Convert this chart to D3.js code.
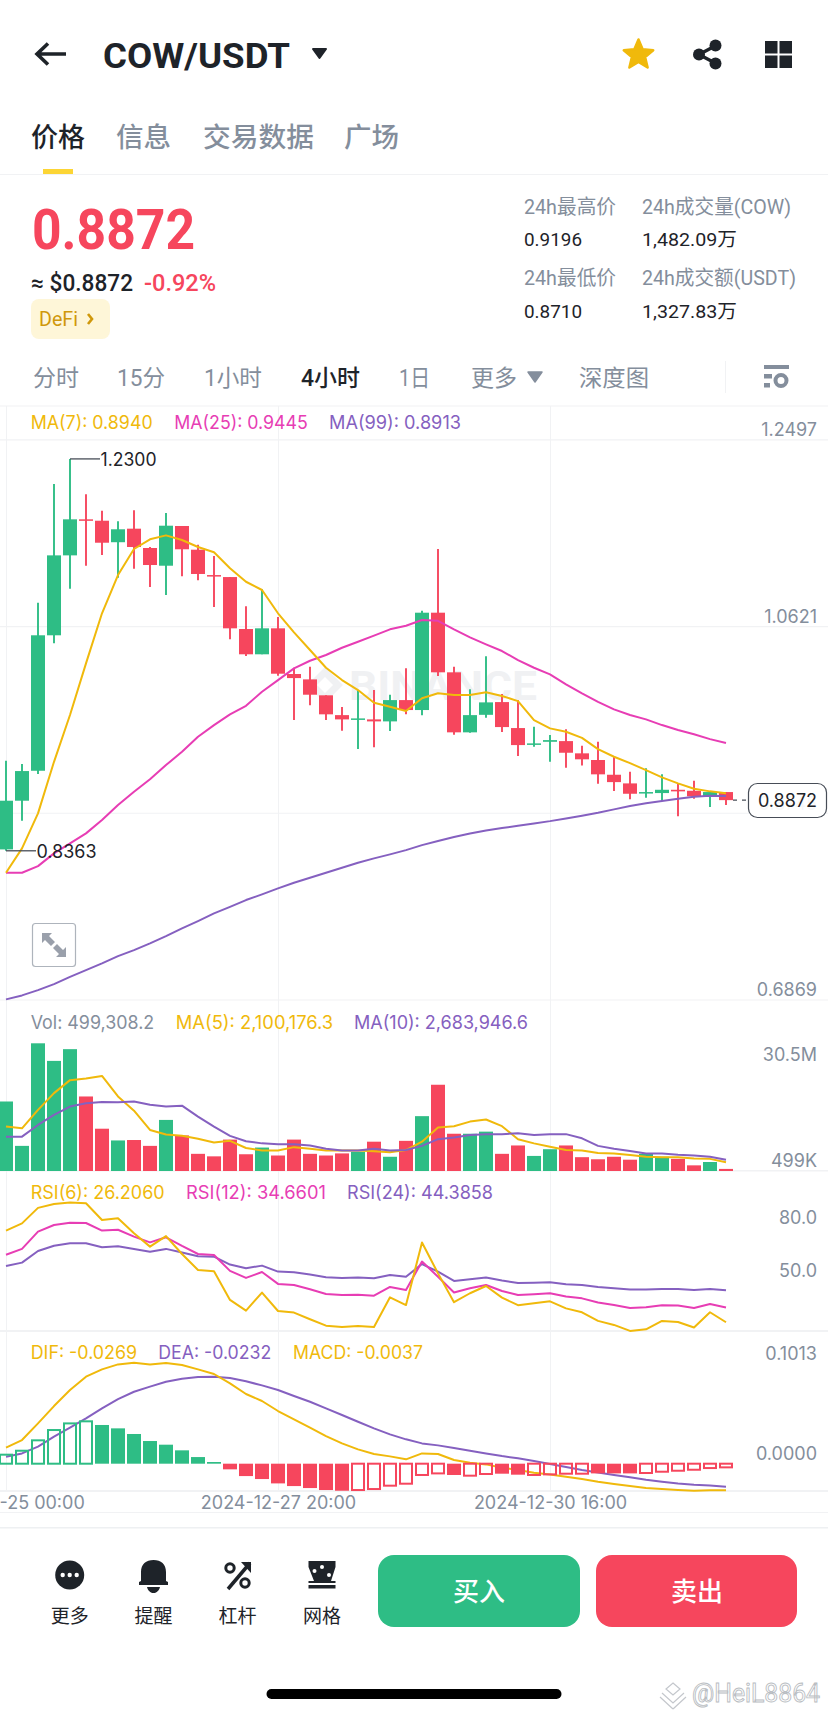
<!DOCTYPE html>
<html><head><meta charset="utf-8">
<script src="https://cdn.jsdelivr.net/npm/d3@7/dist/d3.min.js"></script>
<style>html,body{margin:0;padding:0;background:#fff}svg{display:block}</style>
</head><body><div id="c"></div>
<script>
// ---------- data ----------
const open  = [.8377,.8866,.9167,1.0528,1.1331,1.1693,1.1679,1.1463,1.1599,1.1405,1.1227,1.1626,1.1388,1.1133,1.1113,1.0591,1.0337,1.0598,1.0139,1.0085,.9925,.9726,.9679,.9683,.9663,.9877,.9777,1.0755,1.0156,.9553,.9729,.9857,.9596,.9428,.9458,.9465,.9342,.9275,.9127,.9040,.8940,.8943,.8976,.8966,.8914,.8953];
const close = [.8866,.9164,1.0528,1.1331,1.1693,1.1679,1.1458,1.1593,1.1415,1.1234,1.1629,1.1392,1.1144,1.1120,1.0598,1.0337,1.0598,1.0142,1.0098,.9931,.9734,.9683,.9693,.9663,.9877,.9777,1.0755,1.0156,.9553,.9726,.9854,.9606,.9425,.9442,.9475,.9348,.9282,.9131,.9053,.8936,.8953,.8976,.8960,.8910,.8953,.8872];
const high  = [.9267,.9234,1.0855,1.2048,1.2300,1.1944,1.1779,1.1673,1.1783,1.1415,1.1756,1.1626,1.1438,1.1324,1.1113,1.0819,1.0990,1.0711,1.0202,1.0212,.9925,.9807,.9978,.9978,.9931,1.0196,1.0775,1.1395,1.0212,.9985,1.0317,.9938,.9877,.9609,.9526,.9583,.9418,.9458,.9308,.9157,.9191,.9131,.9040,.9066,.8953,.8953];
const low   = [.8363,.8665,.9134,1.0447,1.0996,1.1227,1.1334,1.1106,1.1197,1.1013,1.0932,1.1120,1.1080,1.0812,1.0487,1.0320,1.0337,1.0122,.9676,.9824,.9676,.9569,.9385,.9402,.9566,.9734,.9724,1.0119,.9529,.9549,.9699,.9556,.9315,.9408,.9257,.9197,.9221,.9036,.8963,.8880,.8896,.8862,.8710,.8887,.8802,.8822];
const ma7   = [.8142,.8387,.8739,.9257,.9727,1.0246,1.0749,1.1133,1.1395,1.1492,1.1532,1.1485,1.1415,1.1362,1.1201,1.1066,1.0983,1.0749,1.0558,1.0380,1.0202,1.0078,.9978,.9850,.9810,.9767,.9895,.9945,.9928,.9928,.9955,.9918,.9867,.9676,.9593,.9559,.9498,.9385,.9308,.9244,.9174,.9100,.9040,.8986,.8960,.8940];
const ma25  = [.8142,.8142,.8209,.8337,.8438,.8538,.8672,.8823,.8956,.9081,.9224,.9358,.9509,.9626,.9734,.9820,.9961,1.0078,1.0196,1.0272,1.0330,1.0403,1.0463,1.0524,1.0588,1.0624,1.0681,1.0674,1.0588,1.0507,1.0437,1.0370,1.0279,1.0202,1.0136,1.0035,.9945,.9860,.9784,.9727,.9683,.9626,.9576,.9533,.9485,.9445];
const ma99  = [.6870,.6910,.6963,.7024,.7097,.7164,.7232,.7305,.7365,.7433,.7506,.7584,.7657,.7734,.7800,.7868,.7925,.7985,.8042,.8092,.8142,.8192,.8243,.8287,.8327,.8370,.8420,.8461,.8501,.8536,.8566,.8591,.8614,.8638,.8661,.8688,.8715,.8745,.8779,.8812,.8840,.8863,.8886,.8906,.8916,.8913];
const vol   = [16.6,6.0,30.5,26.3,29.1,17.8,10.1,7.3,7.4,6.0,12.2,8.5,4.1,3.5,7.5,4.0,5.6,3.7,7.5,4.1,3.7,4.2,4.6,7.0,3.4,7.2,13.1,20.6,8.9,8.9,9.4,4.1,6.1,3.6,5.2,6.1,3.3,2.8,3.4,2.7,4.1,3.4,2.9,1.35,2.15,.499];
const volMa5  = [10.6,10.2,14.6,18.6,21.7,22.1,22.7,17.8,14.4,9.8,8.7,8.4,7.7,6.8,7.2,5.5,4.9,4.9,5.7,5.3,4.9,4.9,4.9,4.7,4.5,5.0,7.0,10.4,10.7,11.8,12.3,10.7,7.6,6.6,5.8,5.0,4.9,4.3,4.2,3.8,3.4,3.3,3.3,3.0,2.9,2.1];
const volMa10 = [8.2,8.2,11.0,13.4,15.4,16.2,16.5,16.4,16.6,15.8,15.4,15.6,13.0,10.6,8.4,7.1,6.6,6.4,6.4,6.1,5.3,4.9,4.9,5.3,4.9,5.0,6.0,7.6,8.0,8.6,8.8,8.8,9.0,8.6,8.8,8.8,7.8,6.0,5.3,4.8,4.2,4.2,3.9,3.7,3.4,2.68];
const rsi6  = [78.3,82.4,91.2,93.4,94.2,93.8,84.3,85.3,76.8,69.2,75.2,65.0,55.9,55.2,38.9,32.8,43.1,32.6,31.7,27.9,24.3,23.5,24.1,23.5,40.4,36.0,71.5,54.0,37.6,42.7,46.8,40.2,35.9,37.0,38.1,34.1,31.9,27.0,24.7,21.3,22.2,27.0,26.4,23.2,31.9,26.206];
const rsi12 = [64.6,67.9,77.7,81.5,82.8,82.6,78.3,78.8,74.9,71.6,74.5,69.6,65.0,64.4,55.4,51.4,54.8,48.0,47.4,45.0,42.3,41.7,41.9,41.3,46.3,44.6,60.7,52.1,43.1,45.5,47.4,44.0,41.7,42.1,42.7,40.8,39.8,37.4,36.0,34.3,34.7,35.9,35.7,34.3,36.6,34.6601];
const rsi24 = [58.2,60.1,66.7,69.7,71.1,71.1,68.8,69.4,67.9,66.3,67.9,65.8,63.7,63.5,59.0,56.9,58.4,55.0,54.6,53.3,51.8,51.4,51.6,51.2,53.1,52.1,59.3,55.0,49.7,50.6,51.6,49.9,48.5,48.7,49.0,47.8,47.4,46.3,45.5,44.8,44.8,45.1,45.1,44.6,45.1,44.3858];
const dif   = [.0162,.0239,.0407,.0582,.0744,.0879,.0953,.1003,.1020,.1003,.1017,.0997,.0953,.0906,.0811,.0704,.0633,.0532,.0448,.0364,.0279,.0205,.0145,.0098,.0074,.0044,.0104,.0098,.0037,.0010,-.0007,-.0040,-.0064,-.0091,-.0108,-.0131,-.0155,-.0182,-.0205,-.0226,-.0246,-.0256,-.0266,-.0273,-.0269,-.0269];
const dea   = [.0071,.0104,.0172,.0273,.0364,.0458,.0559,.0653,.0727,.0778,.0828,.0859,.0875,.0879,.0865,.0832,.0791,.0744,.0684,.0626,.0559,.0492,.0424,.0357,.0296,.0246,.0205,.0185,.0158,.0131,.0104,.0077,.0054,.0027,-.0003,-.0034,-.0064,-.0088,-.0114,-.0138,-.0162,-.0182,-.0199,-.0212,-.0219,-.0232];
const macd  = [.0091,.0131,.0236,.0340,.0407,.0428,.0391,.0357,.0300,.0229,.0192,.0135,.0067,.0017,-.0057,-.0125,-.0155,-.0199,-.0226,-.0246,-.0266,-.0273,-.0266,-.0256,-.0222,-.0202,-.0114,-.0098,-.0114,-.0121,-.0104,-.0101,-.0111,-.0114,-.0108,-.0101,-.0101,-.0098,-.0098,-.0098,-.0094,-.0081,-.0071,-.0061,-.0044,-.0037];
const macdHollow = [1,1,1,1,1,1,0,0,0,0,0,0,0,0,0,0,0,0,0,0,0,0,1,1,1,1,1,1,0,1,1,0,0,1,1,1,1,0,0,0,1,1,1,1,1,1];
const priceTicks = [1.2497,1.0621,0.8745,0.6869];
const volTicks = [30.5,0.499], volTickLabels = ["30.5M","499K"];
const rsiTicks = [80,50];
const macdTicks = [0.1013,0];
const dateTickIdx = [0,17,34];
const dateLabels = ["2024-12-25 00:00","2024-12-27 20:00","2024-12-30 16:00"];
const lastPrice = 0.8872;

// ---------- style ----------
const GREEN="#2EBD85",RED="#F6465D",YEL="#F0B90B",PINK="#E73DB4",PUR="#8560C0",DARK="#1E2329",GRAY="#848E9C",LINE="#F1F2F4";
const LAT='Inter,Roboto,sans-serif', CJK='"Noto Sans CJK SC",sans-serif', HEAD='Roboto,"Noto Sans CJK SC",sans-serif';
const AXS=18;
const W=828,H=1715;
const svg=d3.select("#c").append("svg").attr("width",W).attr("height",H).attr("viewBox",`0 0 ${W} ${H}`);
function T(str,x,y,o={}){
  const t=svg.append("text").attr("x",x).attr("y",y).attr("dy",".36em").text(str)
    .attr("fill",o.c||DARK).attr("font-size",o.s||20).attr("font-family",o.f||HEAD)
    .attr("font-weight",o.w||400).attr("text-anchor",o.a||"start");
  if(o.len){t.attr("textLength",o.len).attr("lengthAdjust","spacingAndGlyphs");}
  return t;
}

// ---------- scales ----------
const idx=d3.range(open.length);
const x=d3.scalePoint().domain(idx).range([6,726]);
const yP=d3.scaleLinear().domain([0.6869,1.2497]).range([999.5,439.3]);
const yV=d3.scaleLinear().domain([0,30.5]).range([1171,1043.3]);
const yR=d3.scaleLinear().domain([0,100]).range([1368.4,1192.4]);
const yM=d3.scaleLinear().domain([-0.03,0.1013]).range([1493.4,1363.4]);

// ---------- header ----------
svg.append("path").attr("d","M66 54H38M48 43.5L37 54L48 64.5").attr("fill","none").attr("stroke",DARK).attr("stroke-width",3.6);
T("COW/USDT",103,55,{s:35,w:700,len:187});
svg.append("path").attr("d","M313 49H326L319.5 58Z").attr("fill",DARK).attr("stroke",DARK).attr("stroke-width",2).attr("stroke-linejoin","round");
const star=d3.range(10).map(i=>{const r=i%2?7:15.5,a=-Math.PI/2+i*Math.PI/5;return [638.5+r*Math.cos(a),55+r*Math.sin(a)];});
svg.append("path").attr("d",d3.line()(star)+"Z").attr("fill",YEL).attr("stroke",YEL).attr("stroke-width",2.5).attr("stroke-linejoin","round");
svg.append("path").attr("d","M699 54.5L716 45.5M699 54.5L716 63.5").attr("stroke",DARK).attr("stroke-width",3.4);
[[699,54.5],[715.5,45.5],[715.5,63.5]].forEach(p=>svg.append("circle").attr("cx",p[0]).attr("cy",p[1]).attr("r",6).attr("fill",DARK));
[[765,41],[779.5,41],[765,55.5],[779.5,55.5]].forEach(p=>svg.append("rect").attr("x",p[0]).attr("y",p[1]).attr("width",12.5).attr("height",12.5).attr("fill",DARK));

T("价格",31,137,{s:27,w:500,f:CJK,len:54});
T("信息",116,137,{s:27,c:GRAY,w:500,f:CJK,len:55});
T("交易数据",203,137,{s:27,c:GRAY,w:500,f:CJK,len:111});
T("广场",344,137,{s:27,c:GRAY,w:500,f:CJK,len:55});
svg.append("rect").attr("x",43).attr("y",169).attr("width",30).attr("height",5).attr("fill","#FCD535");
svg.append("rect").attr("x",0).attr("y",174).attr("width",W).attr("height",1).attr("fill",LINE);

T("0.8872",32,229,{s:56,w:700,c:RED,len:163});
T("≈ $0.8872",31,283,{s:23,w:500,len:102});
T("-0.92%",144,283,{s:23,w:500,c:RED,len:72});
svg.append("rect").attr("x",31).attr("y",299).attr("width",79).attr("height",40).attr("rx",8).attr("fill","#FEF6D8");
T("DeFi",39,319,{s:20,c:"#D0980B",len:39});
svg.append("path").attr("d","M88 314L92 319L88 324").attr("fill","none").attr("stroke","#D0980B").attr("stroke-width",2.6);

T("24h最高价",524,207,{s:20,c:GRAY,len:92});
T("24h成交量(COW)",642,207,{s:20,c:GRAY,len:149});
T("0.9196",524,239,{s:19,len:58});
T("1,482.09万",642,239,{s:19,len:95});
T("24h最低价",524,278,{s:20,c:GRAY,len:92});
T("24h成交额(USDT)",642,278,{s:20,c:GRAY,len:154});
T("0.8710",524,311,{s:19,len:58});
T("1,327.83万",642,311,{s:19,len:95});

[["分时",33,46,0],["15分",117,48,0],["1小时",204,58,0],["4小时",301,59,1],["1日",399,31,0],["更多",471,46,0],["深度图",579,70,0]].forEach(d=>{
  T(d[0],d[1],378,{s:23,c:d[3]?DARK:GRAY,w:d[3]?500:400,len:d[2]});
});
svg.append("path").attr("d","M528 372H542L535 382Z").attr("fill",GRAY).attr("stroke",GRAY).attr("stroke-width",1.5).attr("stroke-linejoin","round");
svg.append("rect").attr("x",725).attr("y",361).attr("width",1).attr("height",32).attr("fill",LINE);
svg.append("rect").attr("x",764).attr("y",365).attr("width",25).attr("height",4).attr("fill",GRAY);
svg.append("rect").attr("x",764).attr("y",374).attr("width",8).attr("height",4.5).attr("fill",GRAY);
svg.append("rect").attr("x",764).attr("y",383).attr("width",6).attr("height",4.5).attr("fill",GRAY);
svg.append("circle").attr("cx",781).attr("cy",380.5).attr("r",5.5).attr("fill","none").attr("stroke",GRAY).attr("stroke-width",4);

// ---------- panel lines & grid ----------
[406.5,1171,1331,1491,1513].forEach(y=>svg.append("rect").attr("x",0).attr("y",y-1).attr("width",W).attr("height",y==1171?1.5:(y==406.5||y==1513?1:2)).attr("fill",LINE));
svg.append("rect").attr("x",0).attr("y",1527).attr("width",W).attr("height",1.5).attr("fill","#EEF0F2");
svg.append("g").selectAll("rect").data(dateTickIdx).join("rect")
  .attr("x",d=>x(d)).attr("y",406).attr("width",1).attr("height",1085).attr("fill",LINE);
svg.append("g").attr("transform",`translate(${W},0)`).call(d3.axisLeft(yP).tickValues(priceTicks).tickSize(W).tickFormat(""))
  .call(g=>{g.select(".domain").remove();g.selectAll("line").attr("stroke",LINE).attr("stroke-width",1.2);});

// watermark
svg.append("path").attr("d","M325 672L338 685L325 698L312 685Z").attr("fill","none").attr("stroke","#F0F1F3").attr("stroke-width",7);
T("BINANCE",349,686,{s:40,w:700,c:"#F0F1F3",f:"Roboto,sans-serif",len:188});

// ---------- candles ----------
const colour=i=>close[i]>=open[i]?GREEN:RED;
svg.append("g").selectAll("line").data(idx).join("line")
  .attr("x1",x).attr("x2",x).attr("y1",i=>yP(high[i])).attr("y2",i=>yP(low[i]))
  .attr("stroke",colour).attr("stroke-width",1.9);
svg.append("g").selectAll("rect").data(idx).join("rect")
  .attr("x",i=>x(i)-7).attr("width",14)
  .attr("y",i=>yP(Math.max(open[i],close[i])))
  .attr("height",i=>Math.max(1.5,Math.abs(yP(open[i])-yP(close[i]))))
  .attr("fill",colour);

const lineOf=(arr,y)=>d3.line().x((d,i)=>x(i)).y(d=>y(d))(arr);
function drawLine(arr,y,c,w){svg.append("path").attr("d",lineOf(arr,y)).attr("fill","none").attr("stroke",c).attr("stroke-width",w||2).attr("stroke-linejoin","round");}
drawLine(ma99,yP,PUR);drawLine(ma25,yP,PINK);drawLine(ma7,yP,YEL);

// axis labels
function labels(scale,ticks,fmt,dy){
  const g=svg.append("g").attr("transform","translate(817,0)")
    .call(d3.axisLeft(scale).tickValues(ticks).tickSize(0).tickPadding(0).tickFormat(fmt));
  g.select(".domain").remove();
  g.selectAll("text").attr("fill",GRAY).attr("font-size",AXS).attr("font-family",LAT)
    .attr("transform",(d,i)=>`translate(0,${typeof dy==="function"?dy(d,i):dy})`);
  return g;
}
labels(yP,priceTicks,d3.format(".4f"),-9.5);

// high / low annotations
const iHi=high.indexOf(d3.max(high)), iLo=low.indexOf(d3.min(low.slice(0,5)));
svg.append("line").attr("x1",x(iHi)).attr("x2",100).attr("y1",yP(high[iHi])).attr("y2",yP(high[iHi])).attr("stroke","#474D57").attr("stroke-width",1.3);
T(d3.format(".4f")(high[iHi]),100.5,460,{s:AXS,f:LAT,len:56});
svg.append("line").attr("x1",x(iLo)).attr("x2",36).attr("y1",yP(low[iLo])).attr("y2",yP(low[iLo])).attr("stroke","#474D57").attr("stroke-width",1.3);
T(d3.format(".4f")(low[iLo]),36.5,852,{s:AXS,f:LAT,len:60});

// last price tag
svg.append("line").attr("x1",733).attr("x2",748).attr("y1",yP(lastPrice)).attr("y2",yP(lastPrice)).attr("stroke","#474D57").attr("stroke-width",1.2).attr("stroke-dasharray","4 5");
svg.append("rect").attr("x",748.5).attr("y",783.5).attr("width",78).attr("height",34).attr("rx",9).attr("fill","rgba(255,255,255,.93)").attr("stroke","#474D57").attr("stroke-width",1.2);
T(d3.format(".4f")(lastPrice),787.5,801,{s:AXS,f:LAT,a:"middle"});

// expand button
svg.append("rect").attr("x",32.5).attr("y",923.5).attr("width",43).attr("height",43).attr("rx",3).attr("fill","#fff").attr("stroke","#AEB4BC").attr("stroke-width",1.2);
svg.append("path").attr("d","M42 933H52L49 936L55 942L51 946L45 940L42 943ZM66 957H56L59 954L53 948L57 944L63 950L66 947Z").attr("fill","#9AA0AB");

// legends
function legend(y,items){items.forEach(d=>T(d[0],d[1],y,{s:18.5,f:LAT,c:d[2],len:d[3]}));}
legend(422.5,[["MA(7): 0.8940",30.7,YEL,122],["MA(25): 0.9445",174.3,PINK,133.5],["MA(99): 0.8913",329,PUR,132]]);
legend(1022.7,[["Vol: 499,308.2",30.7,GRAY,123.5],["MA(5): 2,100,176.3",175.7,YEL,157.5],["MA(10): 2,683,946.6",354,PUR,174]]);
legend(1192.7,[["RSI(6): 26.2060",30.7,YEL,134],["RSI(12): 34.6601",186,PINK,140],["RSI(24): 44.3858",347,PUR,146]]);
legend(1352.7,[["DIF: -0.0269",30.7,YEL,106.5],["DEA: -0.0232",158.3,PUR,113],["MACD: -0.0037",293,YEL,130]]);

// ---------- volume ----------
svg.append("g").selectAll("rect").data(idx).join("rect")
  .attr("x",i=>x(i)-7).attr("width",14).attr("y",i=>yV(vol[i])).attr("height",i=>yV(0)-yV(vol[i])).attr("fill",colour);
drawLine(volMa5,yV,YEL);drawLine(volMa10,yV,PUR);
labels(yV,volTicks,(d,i)=>volTickLabels[i],(d,i)=>i?-8:11.4);

// ---------- RSI ----------
drawLine(rsi24,yR,PUR);drawLine(rsi12,yR,PINK);drawLine(rsi6,yR,YEL);
labels(yR,rsiTicks,d3.format(".1f"),-9.5);

// ---------- MACD ----------
drawLine(dea,yM,PUR);drawLine(dif,yM,YEL);
svg.append("g").selectAll("rect").data(idx).join("rect")
  .attr("x",i=>x(i)-(macdHollow[i]?6:7)).attr("width",i=>macdHollow[i]?12:14)
  .attr("y",i=>Math.min(yM(0),yM(macd[i])))
  .attr("height",i=>Math.abs(yM(0)-yM(macd[i])))
  .attr("fill",i=>macdHollow[i]?"none":(macd[i]>=0?GREEN:RED))
  .attr("stroke",i=>macdHollow[i]?(macd[i]>=0?GREEN:RED):"none").attr("stroke-width",2);
labels(yM,macdTicks,d3.format(".4f"),-9.7);

// date axis
svg.append("g").attr("transform","translate(0,1496.4)")
  .call(d3.axisBottom(x).tickValues(dateTickIdx).tickSize(0).tickPadding(0).tickFormat((d,i)=>dateLabels[i]))
  .call(g=>{g.select(".domain").remove();g.selectAll("text").attr("fill",GRAY).attr("font-size",AXS).attr("font-family",LAT).attr("dy",".71em");});

// ---------- bottom bar ----------
svg.append("ellipse").attr("cx",69.7).attr("cy",1575).attr("rx",14.5).attr("ry",14.5).attr("fill",DARK);
[-7,0,7].forEach(d=>svg.append("circle").attr("cx",69.7+d).attr("cy",1575).attr("r",2.2).attr("fill","#fff"));
svg.append("path").attr("d","M141 1581V1572C141 1564 146 1560 153.6 1560C161 1560 166 1564 166 1572V1581L168 1582V1585H139V1582ZM147 1587H160C159 1591 156 1593 153.6 1593C151 1593 148 1591 147 1587Z").attr("fill",DARK);
svg.append("path").attr("d","M228 1589L250 1563").attr("stroke",DARK).attr("stroke-width",3.5);
svg.append("path").attr("d","M241 1562H251V1573Z").attr("fill",DARK);
svg.append("circle").attr("cx",230).attr("cy",1568).attr("r",4.2).attr("fill","none").attr("stroke",DARK).attr("stroke-width",3);
svg.append("circle").attr("cx",245).attr("cy",1583).attr("r",4.2).attr("fill","none").attr("stroke",DARK).attr("stroke-width",3);
svg.append("path").attr("d","M308.500 1561H335.500V1567L331 1581H335.500V1583H308.500V1581H314L308.500 1567Z").attr("fill",DARK);
svg.append("rect").attr("x",308.5).attr("y",1585).attr("width",27).attr("height",3.5).attr("fill",DARK);
[[322,1567],[314.5,1571],[329,1575]].forEach(p=>svg.append("circle").attr("cx",p[0]).attr("cy",p[1]).attr("r",2).attr("fill","#fff"));
[["更多",69.7],["提醒",153.6],["杠杆",237.6],["网格",322]].forEach(d=>T(d[0],d[1],1615.7,{s:19,f:CJK,a:"middle"}));
svg.append("rect").attr("x",378).attr("y",1555).attr("width",202).attr("height",72).attr("rx",16).attr("fill",GREEN);
svg.append("rect").attr("x",596).attr("y",1555).attr("width",201).attr("height",72).attr("rx",16).attr("fill",RED);
T("买入",479,1592,{s:26,c:"#fff",w:500,f:CJK,a:"middle"});
T("卖出",697,1592,{s:26,c:"#fff",w:500,f:CJK,a:"middle"});
svg.append("rect").attr("x",266.5).attr("y",1689).attr("width",295).attr("height",10).attr("rx",5).attr("fill","#000");
T("@HeiL8864",692,1693,{s:25,f:"Roboto,sans-serif",c:"#fff",len:128}).attr("stroke","#B9BDC2").attr("stroke-width",.9);
svg.append("path").attr("d","M673 1683L680 1689L673 1695L666 1689ZM662 1693L673 1703L684 1693M673 1709L660 1697M673 1709L686 1697").attr("fill","none").attr("stroke","#C4C7CC").attr("stroke-width",1.2);
</script></body></html>
